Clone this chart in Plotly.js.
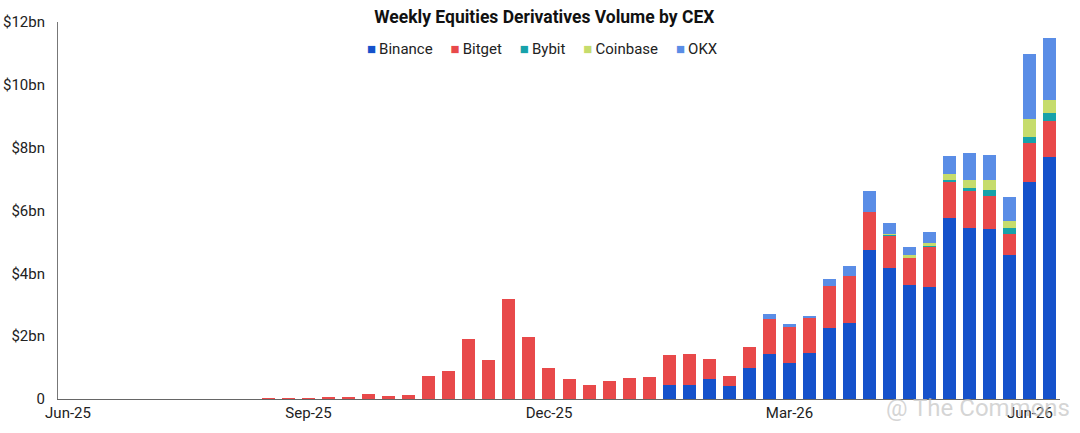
<!DOCTYPE html>
<html>
<head>
<meta charset="utf-8">
<script src="https://cdn.plot.ly/plotly-3.0.1.min.js"></script>
<style>html,body{margin:0;padding:0;background:#fff;}#chart{width:1080px;height:433px;}</style>
</head>
<body>
<div id="chart"></div>
<script>
// Week-start categories
const weeks = [
  "2025-06-30","2025-07-07","2025-07-14","2025-07-21","2025-07-28","2025-08-04","2025-08-11","2025-08-18","2025-08-25","2025-09-01",
  "2025-09-08","2025-09-15","2025-09-22","2025-09-29","2025-10-06","2025-10-13","2025-10-20","2025-10-27","2025-11-03","2025-11-10",
  "2025-11-17","2025-11-24","2025-12-01","2025-12-08","2025-12-15","2025-12-22","2025-12-29","2026-01-05","2026-01-12","2026-01-19",
  "2026-01-26","2026-02-02","2026-02-09","2026-02-16","2026-02-23","2026-03-02","2026-03-09","2026-03-16","2026-03-23","2026-03-30",
  "2026-04-06","2026-04-13","2026-04-20","2026-04-27","2026-05-04","2026-05-11","2026-05-18","2026-05-25","2026-06-01","2026-06-08"
];
// Volumes in $bn
const binance = [
  0,0,0,0,0,0,0,0,0,0,
  0,0,0,0,0,0,0,0,0,0,
  0,0,0,0,0,0,0,0,0,0,
  0.44,0.44,0.64,0.41,0.98,1.42,1.14,1.47,2.26,2.41,
  4.74,4.18,3.63,3.56,5.75,5.43,5.41,4.58,6.90,7.71
];
const bitget = [
  0,0,0,0,0,0,0,0,0,0,
  0.03,0.03,0.04,0.05,0.07,0.15,0.10,0.12,0.74,0.88,
  1.90,1.24,3.18,1.96,0.98,0.64,0.45,0.58,0.68,0.70,
  0.95,0.99,0.64,0.33,0.68,1.13,1.16,1.11,1.35,1.51,
  1.22,1.02,0.85,1.29,1.17,1.20,1.06,0.66,1.24,1.15
];
const bybit = [
  0,0,0,0,0,0,0,0,0,0,
  0,0,0,0,0,0,0,0,0,0,
  0,0,0,0,0,0,0,0,0,0,
  0,0,0,0,0,0,0,0,0,0,
  0,0.01,0.02,0.02,0.04,0.08,0.18,0.19,0.21,0.25
];
const coinbase = [
  0,0,0,0,0,0,0,0,0,0,
  0,0,0,0,0,0,0,0,0,0,
  0,0,0,0,0,0,0,0,0,0,
  0,0,0,0,0,0,0,0,0,0,
  0,0.04,0.09,0.11,0.21,0.26,0.32,0.24,0.56,0.41
];
const okx = [
  0,0,0,0,0,0,0,0,0,0,
  0,0,0,0,0,0,0,0,0,0,
  0,0,0,0,0,0,0,0,0,0,
  0,0,0,0,0,0.15,0.08,0.07,0.20,0.32,
  0.67,0.35,0.24,0.35,0.56,0.85,0.79,0.77,2.07,1.98
];
const seriesNames = ["Binance","Bitget","Bybit","Coinbase","OKX"];
const seriesColors = ["#1552CB","#E8494A","#17A2AA","#C6DC6C","#5A8DE6"];
const seriesData = [binance, bitget, bybit, coinbase, okx];

const xTickVals = ["2025-06-30","2025-09-22","2025-12-15","2026-03-09","2026-06-01"];
const xTickText = ["Jun-25","Sep-25","Dec-25","Mar-26","Jun-26"];
const yTickVals = [0,2,4,6,8,10,12];
const yTickText = ["0","$2bn","$4bn","$6bn","$8bn","$10bn","$12bn"];

const traces = seriesNames.map((n,i)=>({
  type:'bar', name:n, x:weeks, y:seriesData[i],
  marker:{color:seriesColors[i], line:{width:0}},
  hoverinfo:'x+y+name'
}));

const legendText = seriesNames.map((n,i)=>
  '<span style="color:'+seriesColors[i]+';font-size:15px">■</span>&#8201;'+n).join('&nbsp;&nbsp;&nbsp;&nbsp;&#8201;');

// plot area: x 58..1060, y 22..399
const px = v => (v-58)/1002;
const py = v => (399-v)/377;

const layout = {
  width:1080, height:433,
  margin:{l:58, r:20, t:22, b:34},
  paper_bgcolor:'#fff', plot_bgcolor:'#fff',
  barmode:'stack', bargap:0.35,
  showlegend:false,
  font:{family:'Roboto, Arial, sans-serif', size:15, color:'#222'},
  title:{text:'<b>Weekly Equities Derivatives Volume by CEX</b>', x:0.504, xref:'container', xanchor:'center',
         y:1-17/433, yref:'container', yanchor:'middle', font:{size:17.5, color:'#111', family:'Roboto, Arial, sans-serif'}},
  xaxis:{type:'category', categoryorder:'array', categoryarray:weeks, range:[-0.5,49.5],
         tickmode:'array', tickvals:xTickVals, ticktext:xTickText, ticks:'', showgrid:false, zeroline:false,
         showline:true, linecolor:'#666', linewidth:1, tickfont:{size:15, color:'#222'}, fixedrange:true},
  yaxis:{range:[0,12], tickmode:'array', tickvals:yTickVals, ticktext:yTickText, ticks:'', showgrid:false,
         zeroline:false, showline:true, linecolor:'#777', linewidth:1, tickfont:{size:15, color:'#222'},
         ticklabelstandoff:9, fixedrange:true},
  annotations:[
    {text:legendText, xref:'paper', yref:'paper', x:px(542), y:py(49), xanchor:'center', yanchor:'middle',
     showarrow:false, font:{size:15, color:'#222', family:'Roboto, Arial, sans-serif'}},
    {text:'@ The Commons', xref:'paper', yref:'paper', x:px(1072), y:py(408), xanchor:'right', yanchor:'middle',
     showarrow:false, font:{size:24, color:'rgba(195,195,195,0.7)', family:'Roboto, Arial, sans-serif'}}
  ]
};
Plotly.newPlot('chart', traces, layout, {displayModeBar:false, staticPlot:true});
</script>
</body>
</html>
